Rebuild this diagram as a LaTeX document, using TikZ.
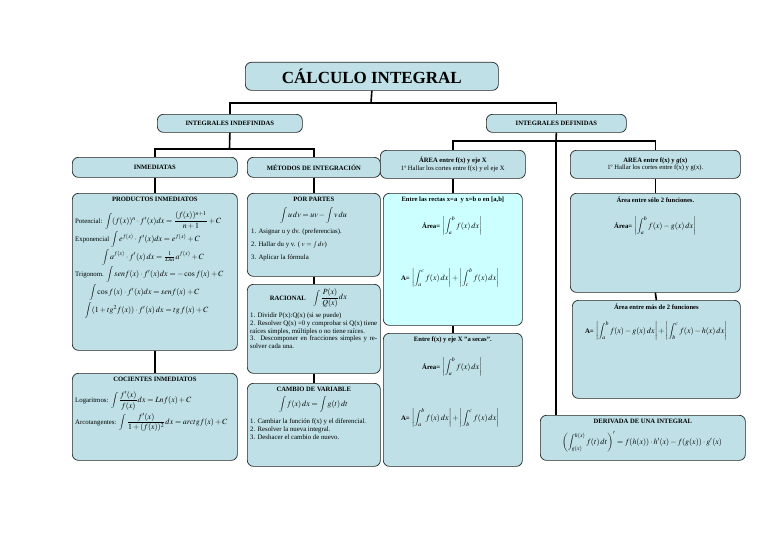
\documentclass[tikz,border=0pt]{standalone}
\usepackage{amsmath}
\usepackage{mathptmx}
\usepackage{fontspec}
\setmainfont{Liberation Serif}
\usetikzlibrary{calc}
\definecolor{boxc}{HTML}{BEE0E6}
\definecolor{boxl}{HTML}{CCFFFF}
\newcommand{\tx}{\fontsize{6.8}{7.6}\selectfont}
\tikzset{
  box/.style={draw=black!85, line width=0.7pt, rounded corners=6pt, fill=boxc, inner sep=0pt},
  conn/.style={draw=black, line width=1.6pt},
  hd/.style={font=\fontsize{6.6}{7.5}\selectfont\bfseries, align=center, inner sep=1pt},
  tx/.style={font=\tx, inner sep=1pt},
  fm/.style={font=\fontsize{7.9}{9}\selectfont, inner sep=1pt},
}
\newcommand{\bx}[6]{\node[box, fill=#6, minimum width=#4pt-#2pt, minimum height=#5pt-#3pt, anchor=north west] (#1) at (#2,#3) {};}
\begin{document}
\begin{tikzpicture}[x=1pt,y=-1pt]
\useasboundingbox[fill=white] (0,0) rectangle (768,543);
% boxes
\bx{title}{245}{62}{498}{90}{boxc}
\bx{indef}{157}{114}{302}{132}{boxc}
\bx{def}{486}{114}{626}{132}{boxc}
\bx{inm}{72}{157}{237}{177}{boxc}
\bx{met}{247}{157}{380}{177}{boxc}
\bx{areax}{380}{150}{525}{178}{boxc}
\bx{areag}{570}{150}{740}{178}{boxc}
\bx{prod}{72}{193}{237}{350}{boxc}
\bx{coc}{72}{373}{237}{460}{boxc}
\bx{part}{247}{193}{380}{276}{boxc}
\bx{rac}{247}{284}{380}{373}{boxc}
\bx{camb}{247}{383}{380}{466}{boxc}
\bx{rect}{383}{193}{522}{325}{boxl}
\bx{seca}{383}{333}{522}{466}{boxc}
\bx{dos}{570}{193}{740}{292}{boxc}
\bx{mas}{572}{300}{740}{398}{boxc}
\bx{der}{540}{415}{745}{460}{boxc}
% connectors
\coordinate (j1) at (371,103);
\coordinate (j2) at (229.5,149);
\coordinate (j3) at (556,141);
\draw[conn] (title.south) -- (j1);
\draw[conn] (indef.north) |- (j1) -| (def.north);
\draw[conn] (indef.south) -- (j2);
\draw[conn] (inm.north) |- (j2) -| (met.north);
\draw[conn] (def.south) -- (j3);
\draw[conn] (areax.north) |- (j3) -| (areag.north);
\draw[conn] (j3) -- (der.north -| j3);
\draw[conn] (inm.south) -- (prod.north);
\draw[conn] (prod.south) -- (coc.north);
\draw[conn] (met.south) -- (part.north);
\draw[conn] (part.south) -- (rac.north);
\draw[conn] (rac.south) -- (camb.north);
\draw[conn] (areax.south) -- (rect.north);
\draw[conn] (rect.south) -- (seca.north);
\draw[conn] (areag.south) -- (dos.north);
\draw[conn] (dos.south) -- (mas.north);
% texts
\node[font=\fontsize{17}{19}\selectfont\bfseries] (tt) at (title.center) {CÁLCULO INTEGRAL};
\node[hd] (t1) at (indef.center) {INTEGRALES INDEFINIDAS};
\node[hd] (t2) at (def.center) {INTEGRALES DEFINIDAS};
\node[hd] (t3) at (inm.center) {INMEDIATAS};
\node[hd] (t4) at (met.center) {MÉTODOS DE INTEGRACIÓN};
\node[hd, font=\fontsize{6.6}{7.4}\selectfont] (t5) at (areax.center) {\textbf{ÁREA entre f(x) y eje X}\\ 1º Hallar los cortes entre f(x) y el eje X};
\node[hd, font=\fontsize{6.6}{7.4}\selectfont] (t6) at (areag.center) {\textbf{AREA entre f(x) y \textit{g}(x)}\\ 1º Hallar los cortes entre f(x) y g(x).};
% productos
\node[hd, anchor=north] (p0) at ($(prod.north)+(0,3)$) {PRODUCTOS INMEDIATOS};
\node[fm, anchor=north west, align=left] (p1) at (74,210) {%
{\tx Potencial:} $\displaystyle\int (f(x))^n\cdot f'(x)dx=\frac{(f(x))^{n+1}}{n+1}+C$\\[1pt]
{\tx Exponencial} $\displaystyle\int e^{f(x)}\cdot f'(x)dx=e^{f(x)}+C$\\[1pt]
\hspace{3.4em}$\displaystyle\int a^{f(x)}\cdot f'(x)\,dx=\tfrac{1}{Lna}a^{f(x)}+C$\\[1pt]
{\tx Trigonom.} $\displaystyle\int \mathit{sen}f(x)\cdot f'(x)dx=-\cos f(x)+C$\\[1pt]
\hspace{1.8em}$\displaystyle\int \cos f(x)\cdot f'(x)dx=\mathit{sen}f(x)+C$\\[1pt]
\hspace{1.2em}$\displaystyle\int (1+tg^2f(x))\cdot f'(x)\,dx=tg\,f(x)+C$};
% cocientes
\node[hd, anchor=north] (c0) at ($(coc.north)+(0,3)$) {COCIENTES INMEDIATOS};
\node[fm, anchor=north west, align=left] (c1) at (74,390) {%
{\tx Logaritmos:} $\displaystyle\int\frac{f'(x)}{f(x)}dx=Lnf(x)+C$\\[2pt]
{\tx Arcotangentes:} $\displaystyle\int\frac{f'(x)}{1+(f(x))^2}dx=arctgf(x)+C$};
% por partes
\node[hd, anchor=north] (pp0) at ($(part.north)+(0,3)$) {POR PARTES};
\node[fm, anchor=north] (pp2) at (313.5,206) {$\displaystyle\int u\,dv=uv-\int v\,du$};
\node[tx, anchor=north west, align=left] (pp1) at (250,228) {%
1. Asignar u y dv. (preferencias).\\[5pt]
2. Hallar du y v. ( $v=\int dv$)\\[5pt]
3. Aplicar la fórmula};
% racional
\node[hd, anchor=east] (r0) at (307,298) {RACIONAL};
\node[fm, anchor=west] (r2) at (312,298) {$\displaystyle\int\frac{P(x)}{Q(x)}dx$};
\node[tx, anchor=north west, text width=127pt, align=justify] (r1) at (249,312) {%
1. Dividir P(x):Q(x) (si se puede)\\
2. Resolver Q(x) =0 y comprobar si Q(x) tiene raíces simples, múltiples o no tiene raíces.\\
3. Descomponer en fracciones simples y resolver cada una.};
% cambio
\node[hd, anchor=north] (cv0) at ($(camb.north)+(0,3)$) {CAMBIO DE VARIABLE};
\node[fm, anchor=north] (cv2) at (313.5,395) {$\displaystyle\int f(x)\,dx=\int g(t)\,dt$};
\node[tx, anchor=north west, text width=127pt, align=justify] (cv1) at (249,418) {%
1. Cambiar la función f(x) y el diferencial.\\
2. Resolver la nueva integral.\\
3. Deshacer el cambio de nuevo.};
% rectas
\node[hd, anchor=north] (e0) at ($(rect.north)+(0,3)$) {Entre las rectas x=a\ \ y x=b o en [a,b]};
\node[fm] (e1) at (452,226) {{\tx\bfseries Área=} $\left|\displaystyle\int_a^b f(x)\,dx\right|$};
\node[fm] (e2) at (450,278) {{\tx\bfseries A=} $\left|\displaystyle\int_a^c f(x)\,dx\right|+\left|\displaystyle\int_c^b f(x)\,dx\right|$};
% secas
\node[hd, anchor=north] (s0) at ($(seca.north)+(0,3)$) {Entre f(x) y eje X "a secas".};
\node[fm] (s1) at (452,367) {{\tx\bfseries Área=} $\left|\displaystyle\int_a^b f(x)\,dx\right|$};
\node[fm] (s2) at (450,418) {{\tx\bfseries A=} $\left|\displaystyle\int_a^b f(x)\,dx\right|+\left|\displaystyle\int_b^c f(x)\,dx\right|$};
% dos
\node[hd, anchor=north] (d0) at ($(dos.north)+(0,3)$) {Área entre sólo 2 funciones.};
\node[fm] (d1) at (655,226) {{\tx\bfseries Área=} $\left|\displaystyle\int_a^b f(x)-g(x)\,dx\right|$};
% mas
\node[hd, anchor=north] (m0) at ($(mas.north)+(0,3)$) {Área entre más de 2 funciones};
\node[fm] (m1) at (656,331) {{\tx\bfseries A=} $\left|\displaystyle\int_a^b f(x)-g(x)\,dx\right|+\left|\displaystyle\int_b^c f(x)-h(x)\,dx\right|$};
% derivada
\node[hd, anchor=north] (dd0) at ($(der.north)+(0,3)$) {DERIVADA DE UNA INTEGRAL};
\node[fm] (dd1) at (642,442) {$\displaystyle\left(\int_{g(x)}^{h(x)} f(t)\,dt\right)'=f(h(x))\cdot h'(x)-f(g(x))\cdot g'(x)$};
\end{tikzpicture}
\end{document}
